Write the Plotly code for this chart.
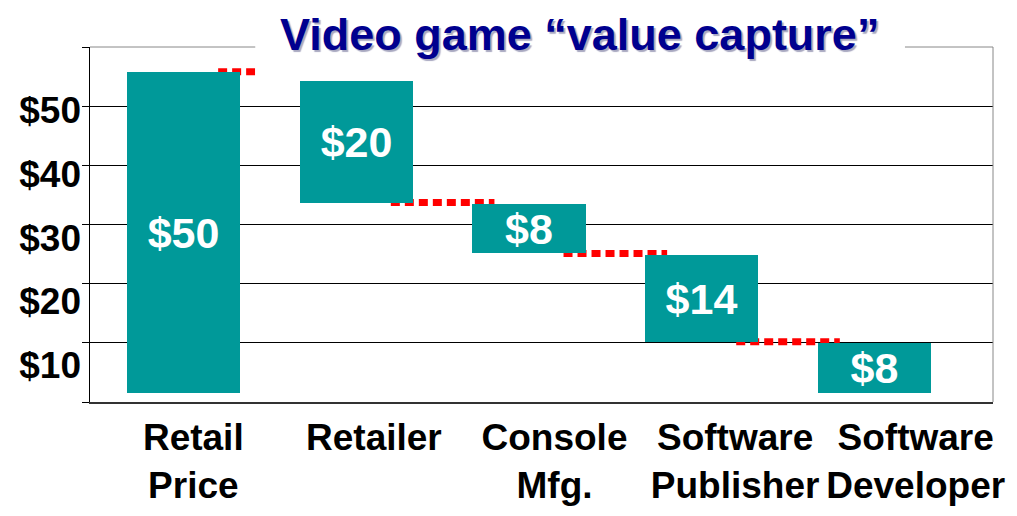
import plotly.graph_objects as go

categories = ["Retail<br>Price", "Retailer", "Console<br>Mfg.", "Software<br>Publisher", "Software<br>Developer"]
bar_bottom = [1.6, 33.7, 25.1, 10.2, 1.6]
bar_top = [55.8, 54.3, 33.5, 24.9, 10.0]
bar_labels = ["$50", "$20", "$8", "$14", "$8"]
y_ticks = [10, 20, 30, 40, 50]
y_ticktext = ["$10", "$20", "$30", "$40", "$50"]

FONT = "Liberation Sans, Arial, sans-serif"
TEAL = "#009999"

idx = list(range(len(categories)))
heights = [t - b for t, b in zip(bar_top, bar_bottom)]

fig = go.Figure()
fig.add_trace(go.Bar(
    x=idx, y=heights, base=bar_bottom, width=0.655,
    marker=dict(color=TEAL, line=dict(width=0)),
    text=bar_labels, textposition="inside", insidetextanchor="middle",
    constraintext="none", textangle=0,
    textfont=dict(family=FONT, size=43, color="white", weight="bold"),
    hoverinfo="skip", showlegend=False,
))
# empty trace so the label axes get drawn
fig.add_trace(go.Scatter(x=[None], y=[None], xaxis="x2", yaxis="y2",
                         mode="markers", showlegend=False, hoverinfo="skip"))

# red dotted connectors between the bars (running level)
for i in range(len(categories) - 1):
    level = bar_top[0] if i == 0 else bar_bottom[i]
    mid = (idx[i] + idx[i + 1]) / 2
    fig.add_shape(type="line", xref="x", yref="y", x0=mid - 0.3, x1=mid + 0.3,
                  y0=level, y1=level, layer="between",
                  line=dict(color="#ff0000", width=7, dash="9px,5px"))

# plot frame top/right in gray
fig.add_shape(type="line", xref="paper", yref="paper", x0=0, x1=1, y0=1, y1=1,
              line=dict(color="#888888", width=1), layer="above")
fig.add_shape(type="line", xref="paper", yref="paper", x0=1, x1=1, y0=0, y1=1,
              line=dict(color="#888888", width=1), layer="above")
# white backdrop behind the title
fig.add_shape(type="rect", xref="paper", yref="paper", x0=0.183, x1=0.9025,
              y0=0.912, y1=1.15, fillcolor="white", line=dict(width=0), layer="above")

fig.add_annotation(
    text="Video game “value capture”",
    xref="paper", yref="paper",
    x=0.5426, y=1.034, xanchor="center", yanchor="middle", showarrow=False,
    font=dict(family=FONT, size=45, color="#00008f", weight="bold",
              shadow="2px 2px 1px #a8a8c0"),
)

# page has an 8px body margin, so the figure is a bit smaller than the window
fig.update_layout(
    width=1009, height=508,
    margin=dict(l=82, r=24, t=39, b=114),
    plot_bgcolor="white", paper_bgcolor="white",
    bargap=0,
    xaxis=dict(range=[-0.542, 4.687], showticklabels=False, ticks="",
               showgrid=False, zeroline=False, automargin=False,
               showline=True, linecolor="#333333", linewidth=2),
    xaxis2=dict(range=[-0.572, 4.428], overlaying="x", anchor="y", side="bottom",
                tickvals=idx, ticktext=categories, ticks="", automargin=False,
                showgrid=False, zeroline=False, showline=False,
                ticklabelstandoff=10,
                tickfont=dict(family=FONT, size=37, color="black", weight="bold")),
    yaxis=dict(range=[0, 60], tickvals=[0] + y_ticks + [60], showticklabels=False,
               ticks="outside", ticklen=7, tickcolor="black", automargin=False,
               showgrid=True, gridcolor="black", gridwidth=1, zeroline=False,
               showline=True, linecolor="black", linewidth=1),
    yaxis2=dict(range=[4.2, 59.9], overlaying="y", anchor="x", side="left",
                tickvals=y_ticks, ticktext=y_ticktext, ticks="", automargin=False,
                showgrid=False, zeroline=False, showline=False,
                ticklabelstandoff=8,
                tickfont=dict(family=FONT, size=37, color="black", weight="bold")),
)

fig.write_html("out.html")
